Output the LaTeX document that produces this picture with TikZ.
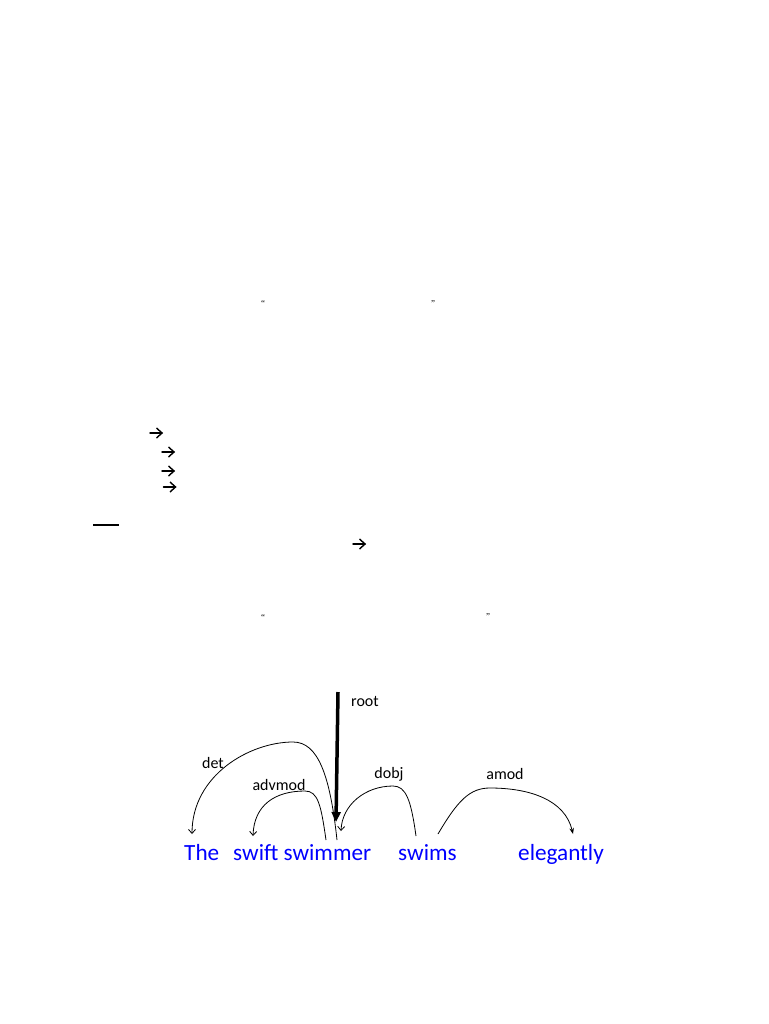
\documentclass[tikz,border=0pt]{standalone}
\usepackage{fontspec}
\setmainfont{Carlito}
\newfontfamily\serifq{Liberation Serif}
\usetikzlibrary{arrows.meta}
\begin{document}
\begin{tikzpicture}[x=1pt,y=-1pt,
  word/.style={text={rgb,255:red,0;green,0;blue,255}, font=\fontsize{23.2}{23.2}\selectfont, inner sep=0pt, anchor=base west},
  lab/.style={font=\fontsize{16}{16}\selectfont, inner sep=0pt},
  quot/.style={font=\serifq\fontsize{9}{9}\selectfont, inner sep=0pt},
  dep/.style={line width=0.8pt, -{Straight Barb[length=4pt,width=7pt]}},
  depf/.style={line width=0.8pt, -{Stealth[length=6pt,width=4.5pt]}},
  warr/.pic={\draw[line width=1.4pt, line cap=round, line join=miter] (-6,0) -- (6,0);
             \draw[line width=1.4pt, line join=miter] (0.5,-5) -- (6,0) -- (0.5,5);}]
\useasboundingbox[fill=white] (0,0) rectangle (768,1024);
% stray marks
\node[quot] (q1) at (263,304) {“};
\node[quot] (q2) at (433,304) {”};
\pic at (156,433) {warr};
\pic at (168,452) {warr};
\pic at (168,471) {warr};
\pic at (169.5,487) {warr};
\coordinate (l1) at (93,525);
\coordinate (l2) at (119,525);
\draw[line width=1.8pt] (l1) -- (l2);
\pic at (359,544) {warr};
\node[quot] (q3) at (263,617) {“};
\node[quot] (q4) at (488,617) {”};
% words
\node[word] (the) at (184,860) {The};
\node[word] (sw) at (233,860) {swift swimmer};
\node[word] (swims) at (398,860) {swims};
\node[word] (eleg) at (518,860) {elegantly};
% labels
\node[lab] (lroot) at (365,701) {root};
\node[lab] (ldet) at (213,763) {det};
\node[lab] (ladv) at (279,785) {advmod};
\node[lab] (ldobj) at (389,774) {dobj};
\node[lab] (lamod) at (505,774) {amod};
% coordinates
\coordinate (rtop) at (338,692);
\coordinate (rbot) at (336,822);
\coordinate (dets) at (337,840);
\coordinate (dete) at (192,834);
\coordinate (advs) at (326,840);
\coordinate (adve) at (253,836);
\coordinate (dobs) at (416,836);
\coordinate (dobe) at (341,831);
\coordinate (ams) at (438,834);
\coordinate (ame) at (573,834);
% connectors
\draw[line width=3.5pt, -{Triangle[length=10pt,width=9pt]}] (rtop) -- (rbot);
\draw[dep] (dets) .. controls (330,775) and (318,742) .. (293,742) .. controls (250,742) and (192,775) .. (dete);
\draw[dep] (advs) .. controls (321,805) and (318,791) .. (305,791) .. controls (275,791) and (254,805) .. (adve);
\draw[dep] (dobs) .. controls (411,800) and (406,786) .. (393,786) .. controls (365,786) and (342,805) .. (dobe);
\draw[depf] (ams) .. controls (458,800) and (470,788) .. (490,788) .. controls (530,788) and (565,800) .. (ame);
\end{tikzpicture}
\end{document}
